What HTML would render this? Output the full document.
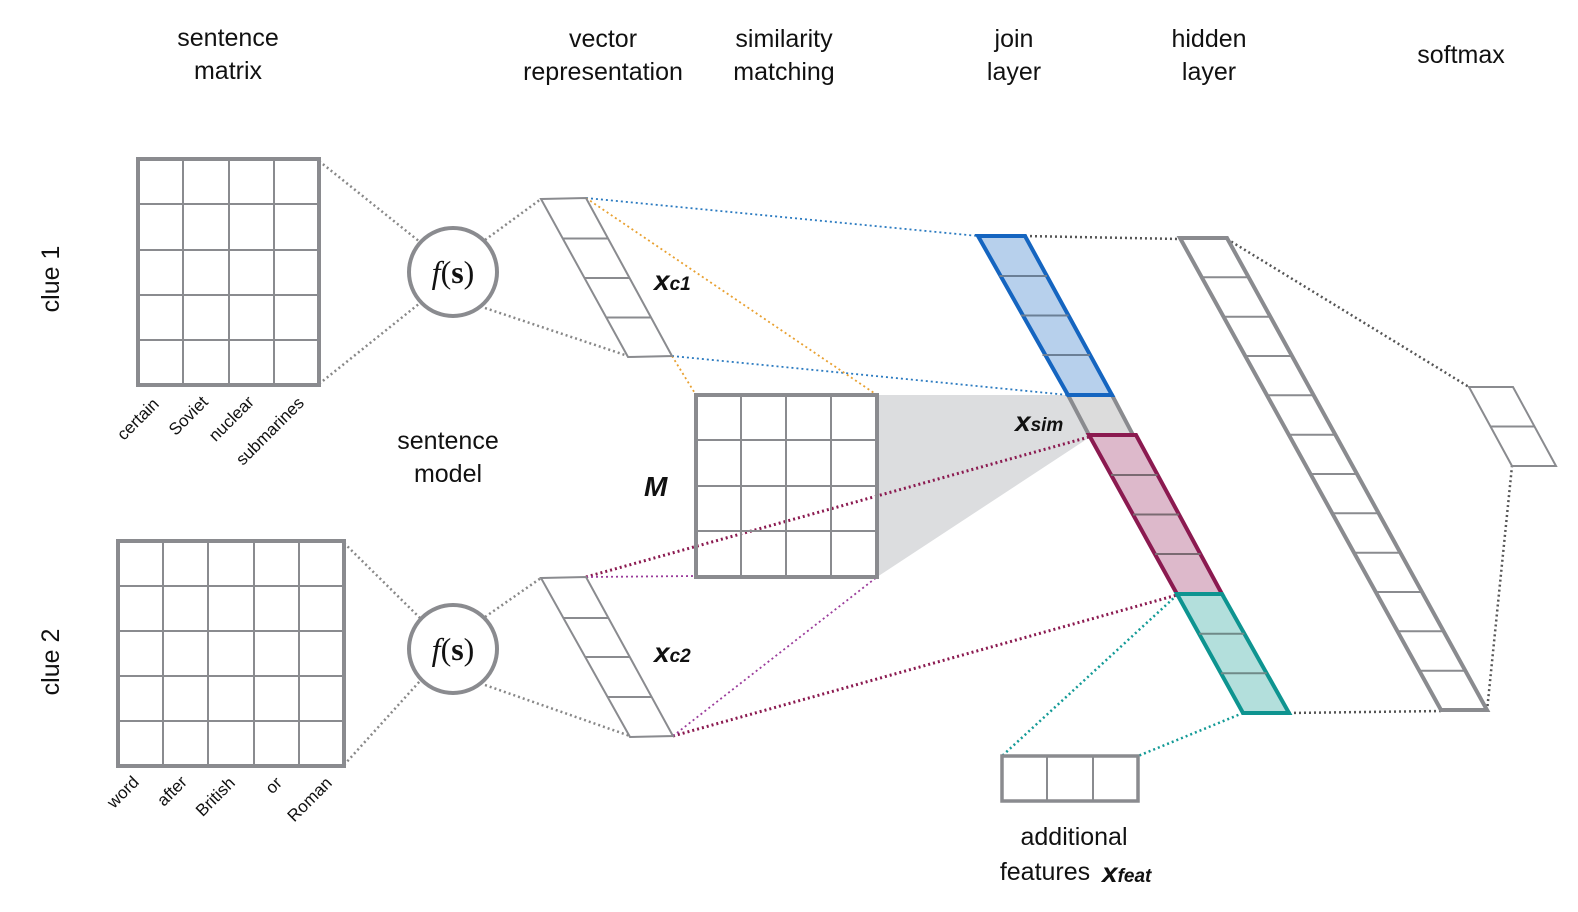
<!DOCTYPE html>
<html><head><meta charset="utf-8"><style>
html,body{margin:0;padding:0;background:#fff;}
svg{display:block;}
text{fill:#111;}
</style></head><body>
<svg width="1578" height="912" viewBox="0 0 1578 912" xmlns="http://www.w3.org/2000/svg" style="font-family:'Liberation Sans',sans-serif">
<g font-size="25" text-anchor="middle">
<text x="228" y="46">sentence</text><text x="228" y="79">matrix</text>
<text x="603" y="47">vector</text><text x="603" y="80">representation</text>
<text x="784" y="47">similarity</text><text x="784" y="80">matching</text>
<text x="1014" y="47">join</text><text x="1014" y="80">layer</text>
<text x="1209" y="47">hidden</text><text x="1209" y="80">layer</text>
<text x="1461" y="63">softmax</text>
<text x="448" y="449">sentence</text><text x="448" y="482">model</text>
<text x="1074" y="845">additional</text>
<text x="1045" y="880">features</text>
<text transform="translate(59,279) rotate(-90)">clue 1</text>
<text transform="translate(59,662) rotate(-90)">clue 2</text>
</g>
<polygon points="877,395 1070,395 1090,437 877,577" fill="#dcdddf"/>
<g fill="none" stroke-dasharray="2,3">
<g stroke="#888" stroke-width="2.5">
<line x1="319" y1="161" x2="420" y2="242"/><line x1="319" y1="384" x2="420" y2="303"/>
<line x1="485" y1="240" x2="541" y2="199"/><line x1="485" y1="308" x2="628" y2="356"/>
<line x1="344" y1="543" x2="420" y2="618"/><line x1="344" y1="765" x2="420" y2="681"/>
<line x1="485" y1="617" x2="541" y2="578"/><line x1="485" y1="685" x2="630" y2="736"/>
</g>
<g stroke="#555" stroke-width="2.5">
<line x1="1025" y1="236" x2="1180" y2="239"/><line x1="1227" y1="239" x2="1469" y2="387"/>
<line x1="1289" y1="713" x2="1441" y2="711"/><line x1="1487" y1="711" x2="1512" y2="466"/>
</g>
<g stroke="#2a7ac0" stroke-width="1.8">
<line x1="586" y1="198" x2="978" y2="236"/><line x1="672" y1="356" x2="1068" y2="395"/>
</g>
<g stroke="#e8a030" stroke-width="1.8">
<line x1="586" y1="198" x2="877" y2="395"/><line x1="672" y1="356" x2="696" y2="395"/>
</g>
<g stroke="#8b1a50" stroke-width="3">
<line x1="586" y1="577" x2="1089" y2="437"/><line x1="673" y1="736" x2="1177" y2="595"/>
</g>
<g stroke="#9b3c9b" stroke-width="1.8">
<line x1="586" y1="577" x2="696" y2="576"/><line x1="673" y1="736" x2="877" y2="577"/>
</g>
<g stroke="#139a96" stroke-width="2.5">
<line x1="1177" y1="595" x2="1002" y2="756"/><line x1="1243" y1="713" x2="1138" y2="756"/>
</g>
</g>
<g fill="none" stroke="#8a8b8f">
<rect x="138" y="159" width="181" height="226" stroke-width="4"/>
<path d="M183,159V385M229,159V385M274,159V385M138,204H319M138,250H319M138,295H319M138,340H319" stroke-width="2"/>
<rect x="118" y="541" width="226" height="225" stroke-width="4"/>
<path d="M163,541V766M208,541V766M254,541V766M299,541V766M118,586H344M118,631H344M118,676H344M118,721H344" stroke-width="2"/>
<rect x="696" y="395" width="181" height="182" stroke-width="4"/>
<path d="M741,395V577M786,395V577M831,395V577M696,440H877M696,486H877M696,531H877" stroke-width="2"/>
<rect x="1002" y="756" width="136" height="45" stroke-width="3.5"/>
<path d="M1047,756V801M1093,756V801" stroke-width="2"/>
<circle cx="453" cy="272" r="44" stroke-width="4" fill="#fff"/>
<circle cx="453" cy="649" r="44" stroke-width="4" fill="#fff"/>
<polygon points="541,199 586,198 672,356 628,357" stroke-width="2" fill="#fff"/>
<path d="M563,238.5H608M585,278H629M606,317.5H651" stroke-width="2"/>
<polygon points="541,578 586,577 673,736 630,737" stroke-width="2" fill="#fff"/>
<path d="M563,618H608M585,657H630M607,697H652" stroke-width="2"/>
<polygon points="1469,387 1513,387 1556,466 1512,466" stroke-width="2"/>
<path d="M1490,426.5H1534" stroke-width="2"/>
<polygon points="1180,238 1227,238 1487,710 1441,710" stroke-width="4"/>
<path d="M1201.75,277.3H1248.75M1223.5,316.7H1270.5M1245.25,356H1292.25M1267,395.3H1314M1288.75,434.7H1335.75M1310.5,474H1357.5M1332.25,513.3H1379.25M1354,552.7H1401M1375.75,592H1422.75M1397.5,631.3H1444.5M1419.25,670.7H1466.25" stroke-width="2"/>
</g>
<polygon points="1068,395 1112,395 1133,435 1089,435" fill="#dcdcdc" stroke="#8a8b8f" stroke-width="4"/>
<polygon points="978,236 1025,236 1112,395 1068,395" fill="#b7d0ec" stroke="#1565c0" stroke-width="4"/>
<path d="M999.5,276H1047M1021,315.5H1068.5M1042.5,355H1090" stroke="#6b7f96" stroke-width="2"/>
<polygon points="1089,435 1136,435 1222,594 1177,594" fill="#ddb9cb" stroke="#8b1a50" stroke-width="4"/>
<path d="M1111,475H1157.5M1133,514.5H1179M1155,554H1200.5" stroke="#7a6a72" stroke-width="2"/>
<polygon points="1177,594 1222,594 1289,713 1243,713" fill="#b3dfdc" stroke="#0e9490" stroke-width="4"/>
<path d="M1199,633.7H1244.3M1221,673.3H1266.7" stroke="#6f8a88" stroke-width="2"/>
<g style="font-family:'Liberation Serif',serif" font-size="32" text-anchor="middle">
<text x="453" y="283"><tspan font-style="italic">f</tspan>(<tspan font-weight="bold">s</tspan>)</text>
<text x="453" y="660"><tspan font-style="italic">f</tspan>(<tspan font-weight="bold">s</tspan>)</text>
</g>
<g font-weight="bold" font-style="italic">
<text x="654" y="290" font-size="28">x<tspan font-size="19">c1</tspan></text>
<text x="654" y="662" font-size="28">x<tspan font-size="19">c2</tspan></text>
<text x="644" y="496" font-size="28">M</text>
<text x="1015" y="431" font-size="28">x<tspan font-size="19">sim</tspan></text>
<text x="1102" y="882" font-size="28">x<tspan font-size="19">feat</tspan></text>
</g>
<g font-size="17" text-anchor="end" fill="#222">
<text transform="translate(160,405) rotate(-45)">certain</text>
<text transform="translate(209,403) rotate(-45)">Soviet</text>
<text transform="translate(255,403) rotate(-45)">nuclear</text>
<text transform="translate(305,404) rotate(-45)">submarines</text>
<text transform="translate(140,783) rotate(-45)">word</text>
<text transform="translate(188,783) rotate(-45)">after</text>
<text transform="translate(236,784) rotate(-45)">British</text>
<text transform="translate(283,784) rotate(-45)">or</text>
<text transform="translate(333,784) rotate(-45)">Roman</text>
</g>
</svg>
</body></html>
